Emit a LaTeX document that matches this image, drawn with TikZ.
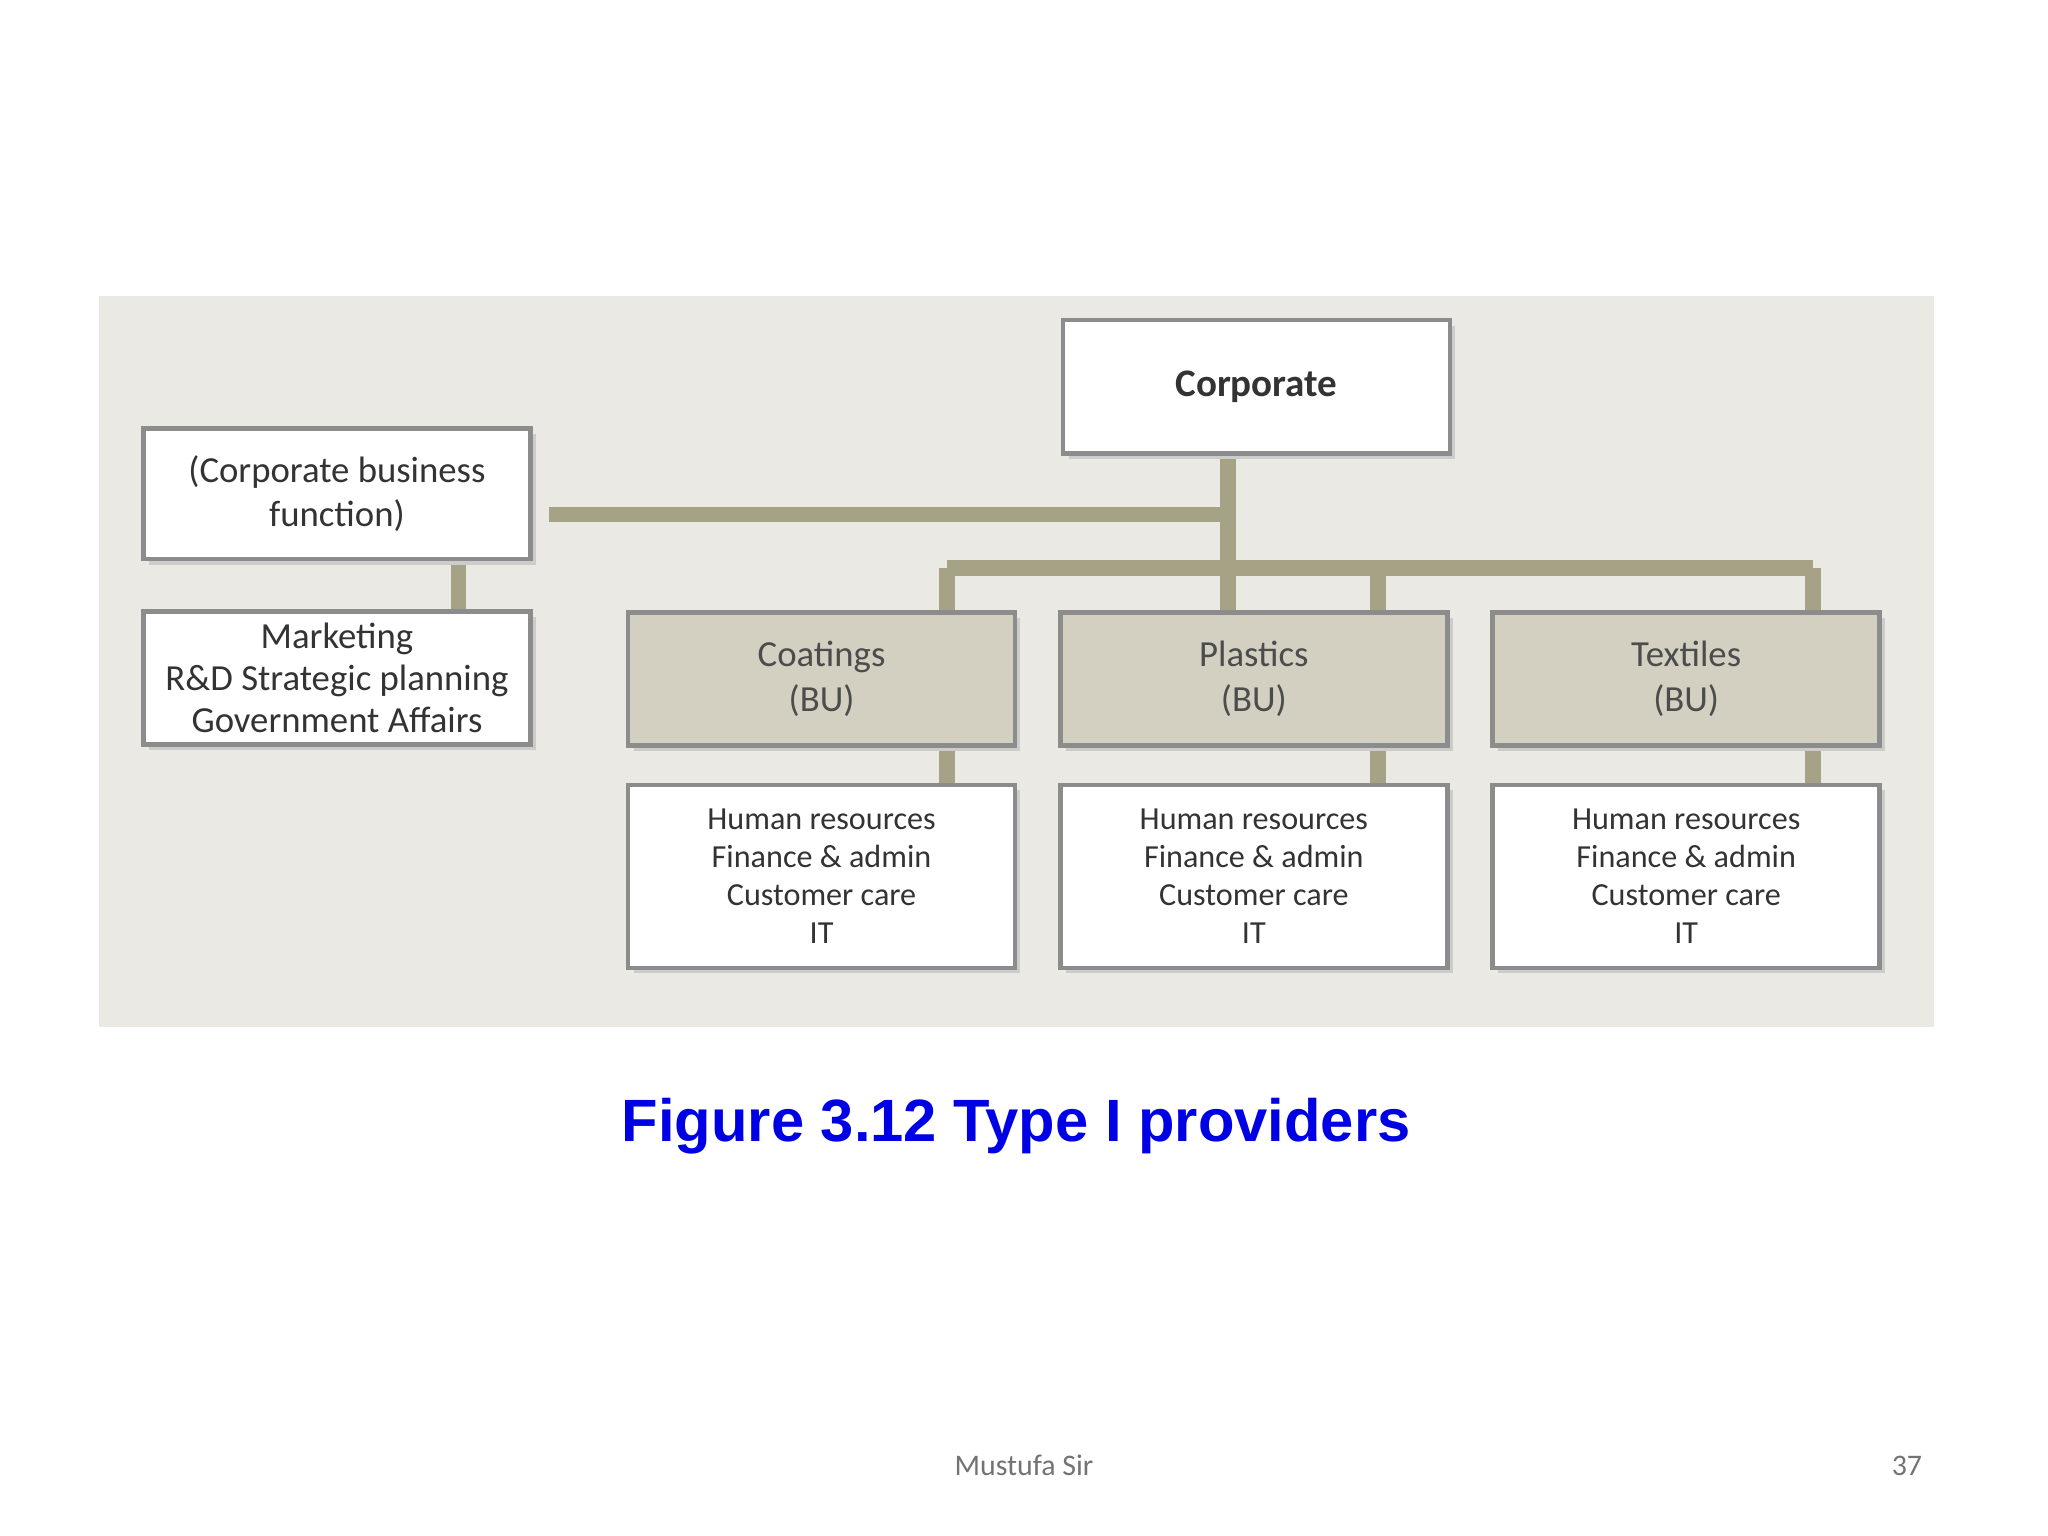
\documentclass[tikz,border=0pt]{standalone}
\usepackage{fontspec}
\setmainfont{Carlito}
\newfontfamily\capfont{Liberation Sans}
\begin{document}
\begin{tikzpicture}[x=0.01cm,y=-0.01cm,
  box/.style={draw=black!45,line width=1pt,fill=white,minimum height=#1*0.01cm,minimum width=2.96cm,align=center,inner sep=0pt,font=\fontsize{7}{8.3}\selectfont\color{black!80},
    preaction={fill=black!20,transform canvas={xshift=1.2pt,yshift=-1.2pt}}},
  bu/.style={box=102,fill=bufill,font=\fontsize{8}{9.8}\selectfont\color{black!70}},
  conn/.style={draw=conncol,line width=3.4pt}]
\definecolor{bg}{HTML}{EBE9E4}
\definecolor{bufill}{HTML}{D3CFC1}
\definecolor{conncol}{HTML}{A5A285}
\useasboundingbox (0,0) rectangle (1568,1176);
\fill[bg] (76,227) rectangle (1481,786);
% connectors
\coordinate (j0) at (940,394);
\coordinate (jl) at (420,394);
\coordinate (b1) at (725,435);
\coordinate (b2) at (1055,435);
\coordinate (b3) at (1388,435);
\draw[conn] (jl) -- (j0);
\draw[conn] (b1) -- (b3);
\draw[conn] (940,347) -- (940,469);
\draw[conn] (b1) -- (725,469);
\draw[conn] (b2) -- (1055,469);
\draw[conn] (b3) -- (1388,469);
\draw[conn] (351,428) -- (351,468);
\draw[conn] (725,571) -- (725,601);
\draw[conn] (1055,571) -- (1055,601);
\draw[conn] (1388,571) -- (1388,601);
% nodes
\node[box=102,font=\fontsize{8.5}{10}\selectfont\bfseries\color{black!80}] (corp) at (962,296) {Corporate};
\node[box=100,font=\fontsize{8}{9.5}\selectfont\color{black!80}] (cbf) at (258,378) {(Corporate business\\function)};
\node[box=102,font=\fontsize{8}{9.2}\selectfont\color{black!80}] (mkt) at (258,519) {Marketing\\R\&D Strategic planning\\Government Affairs};
\node[bu] (coat) at (629,520) {Coatings\\(BU)};
\node[bu] (plas) at (960,520) {Plastics\\(BU)};
\node[bu] (text) at (1291,520) {Textiles\\(BU)};
\node[box=140] (f1) at (629,671) {Human resources\\Finance \& admin\\Customer care\\IT};
\node[box=140] (f2) at (960,671) {Human resources\\Finance \& admin\\Customer care\\IT};
\node[box=140] (f3) at (1291,671) {Human resources\\Finance \& admin\\Customer care\\IT};
\node[font=\capfont\bfseries\fontsize{13}{15}\selectfont,text=blue!90!black] (cap) at (778,862) {Figure 3.12 Type I providers};
\node[font=\fontsize{6.5}{8}\selectfont,text=black!55] (ft) at (784,1122) {Mustufa Sir};
\node[font=\fontsize{6.5}{8}\selectfont,text=black!55] (pg) at (1460,1122) {37};
\end{tikzpicture}
\end{document}
